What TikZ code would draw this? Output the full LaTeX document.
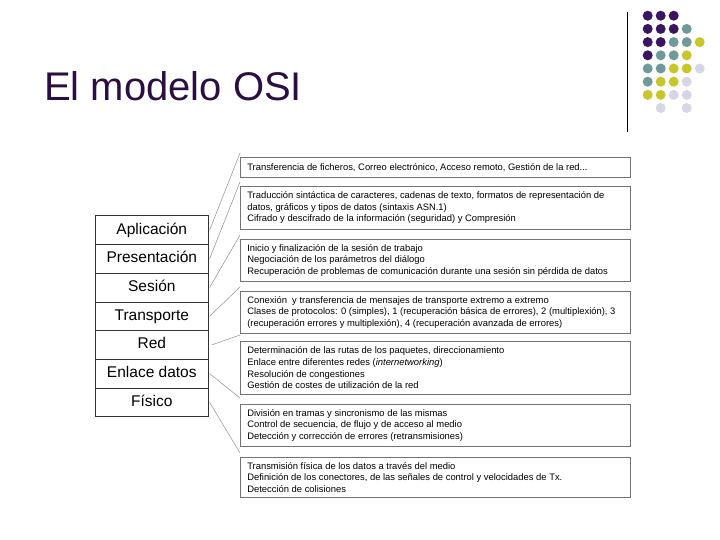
\documentclass[tikz,border=0pt]{standalone}
\usepackage{fontspec}
\setmainfont{Liberation Sans}
\begin{document}
\begin{tikzpicture}[x=1pt,y=-1pt,
  layer/.style={draw=black!80,line width=0.6pt,minimum width=113pt,minimum height=28.7pt,inner sep=0pt,text height=11pt,text depth=3pt,font=\fontsize{15.5}{17}\selectfont,anchor=north west},
  desc/.style={draw=black!55,line width=0.6pt,text width=376pt,inner sep=0pt,inner xsep=7pt,align=flush left,font=\fontsize{9.4}{11.6}\selectfont,anchor=north west},
  conn/.style={draw=black!45,line width=0.5pt},
  dot/.style={circle,inner sep=0pt,minimum size=10pt}]
\useasboundingbox (0,0) rectangle (720,540);
\definecolor{cP}{HTML}{3B1560}\definecolor{cT}{HTML}{6E9A9A}\definecolor{cY}{HTML}{C8C62A}\definecolor{cL}{HTML}{D6D6E6}
\node[font=\fontsize{40}{44}\selectfont,text=cP!70!black,anchor=base west,inner sep=0pt] (title) at (44,101) {El modelo OSI};
\draw[line width=0.8pt] (627,12) coordinate (va) -- (627,132) coordinate (vb);
% dots
\foreach \r/\row in {0/{P,P,P},1/{P,P,P,T},2/{P,P,T,T,Y},3/{P,T,T,Y},4/{T,T,Y,Y,L},5/{T,Y,Y,L},6/{Y,Y,L,L}}{
  \foreach \c [count=\i from 0] in \row {
    \node[dot,fill=c\c] (d\r\i) at (647.7+13*\i,15.7+13.2*\r) {};
  }}
\node[dot,fill=cL] (d71) at (660.7,108) {};
\node[dot,fill=cL] (d73) at (686.7,108) {};
% layers
\node[layer] (l1) at (95,215.5) {Aplicación};
\node[layer] (l2) at (95,244.2) {Presentación};
\node[layer] (l3) at (95,272.9) {Sesión};
\node[layer] (l4) at (95,301.6) {Transporte};
\node[layer] (l5) at (95,330.3) {Red};
\node[layer] (l6) at (95,359) {Enlace datos};
\node[layer] (l7) at (95,387.7) {Físico};
% descriptions
\node[desc,minimum height=20pt] (b1) at (240,157) {Transferencia de ficheros, Correo electrónico, Acceso remoto, Gestión de la red...};
\node[desc,minimum height=43pt] (b2) at (240,186) {Traducción sintáctica de caracteres, cadenas de texto, formatos de representación de\\datos, gráficos y tipos de datos (sintaxis ASN.1)\\Cifrado y descifrado de la información (seguridad) y Compresión};
\node[desc,minimum height=42pt] (b3) at (240,239) {Inicio y finalización de la sesión de trabajo\\Negociación de los parámetros del diálogo\\Recuperación de problemas de comunicación durante una sesión sin pérdida de datos};
\node[desc,minimum height=42pt] (b4) at (240,291) {Conexión\ \ y transferencia de mensajes de transporte extremo a extremo\\Clases de protocolos: 0 (simples), 1 (recuperación básica de errores), 2 (multiplexión), 3\\(recuperación errores y multiplexión), 4 (recuperación avanzada de errores)};
\node[desc,minimum height=53pt] (b5) at (240,341) {Determinación de las rutas de los paquetes, direccionamiento\\Enlace entre diferentes redes (\textit{internetworking})\\Resolución de congestiones\\Gestión de costes de utilización de la red};
\node[desc,minimum height=42pt] (b6) at (240,404) {División en tramas y sincronismo de las mismas\\Control de secuencia, de flujo y de acceso al medio\\Detección y corrección de errores (retransmisiones)};
\node[desc,minimum height=40pt] (b7) at (240,457) {Transmisión física de los datos a través del medio\\Definición de los conectores, de las señales de control y velocidades de Tx.\\Detección de colisiones};
% connectors
\draw[conn] ([xshift=1pt]l1.east) -- ([yshift=4pt]b1.north west);
\draw[conn] ([xshift=1pt]l2.east) -- ([yshift=4pt]b2.north west);
\draw[conn] ([xshift=1pt]l3.east) -- ([yshift=4pt]b3.north west);
\draw[conn] ([xshift=1pt]l4.east) -- ([yshift=4pt]b4.north west);
\draw[conn] ([xshift=3pt]l5.east) -- ([yshift=6pt]b5.north west);
\draw[conn] ([xshift=1pt]l6.east) -- ([yshift=6pt]b6.north west);
\draw[conn] ([xshift=1pt]l7.east) -- ([yshift=4pt]b7.north west);
\end{tikzpicture}
\end{document}
